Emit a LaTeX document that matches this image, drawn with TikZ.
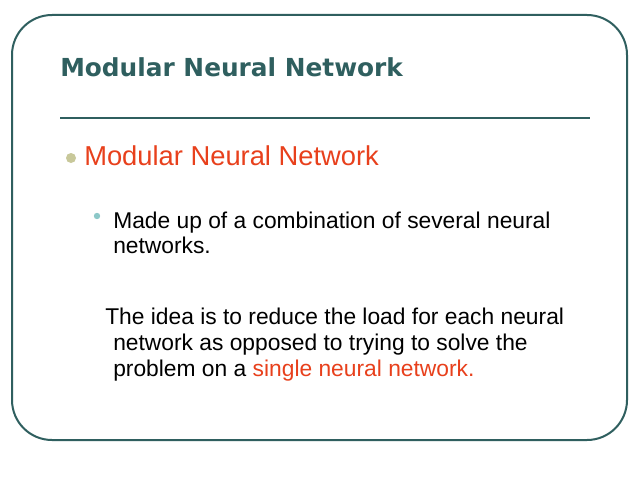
\documentclass[tikz,border=0pt]{standalone}
\usepackage{fontspec}
\setmainfont{Liberation Sans}
\newfontfamily\titlefont{DejaVu Sans}
\definecolor{teal1}{HTML}{2F5F5F}
\definecolor{red1}{HTML}{E8401C}
\definecolor{olive1}{HTML}{C8C89A}
\definecolor{cyan1}{HTML}{8CC8C8}
\begin{document}
\begin{tikzpicture}[x=0.75pt,y=-0.75pt,
  txt/.style={anchor=base west,inner sep=0pt,font=\fontsize{17.1}{20}\selectfont}]
\useasboundingbox (0,0) rectangle (638,478);
\fill[white] (0,0) rectangle (638,478);
\draw[teal1,line width=1.5pt,rounded corners=30pt] (12,15) rectangle (627,440);
\node[anchor=base west,inner sep=0pt,text=teal1,font=\titlefont\bfseries\fontsize{18.6}{21}\selectfont] (title) at (60,76) {Modular Neural Network};
\draw[teal1,line width=1.5pt] (60,118) coordinate (l1) -- (590,118) coordinate (l2);
\fill[olive1] (71,158) circle[radius=5];
\node[txt,text=red1,font=\fontsize{20.5}{24}\selectfont] (h) at (84,165) {Modular Neural Network};
\fill[cyan1] (97,216) circle[radius=3.2];
\node[txt] (a1) at (113,228) {Made up of a combination of several neural};
\node[txt] (a2) at (113,253) {networks.};
\node[txt] (b1) at (105,324) {The idea is to reduce the load for each neural};
\node[txt] (b2) at (113,350) {network as opposed to trying to solve the};
\node[txt] (b3) at (113,376) {problem on a \textcolor{red1}{single neural network.}};
\end{tikzpicture}
\end{document}
